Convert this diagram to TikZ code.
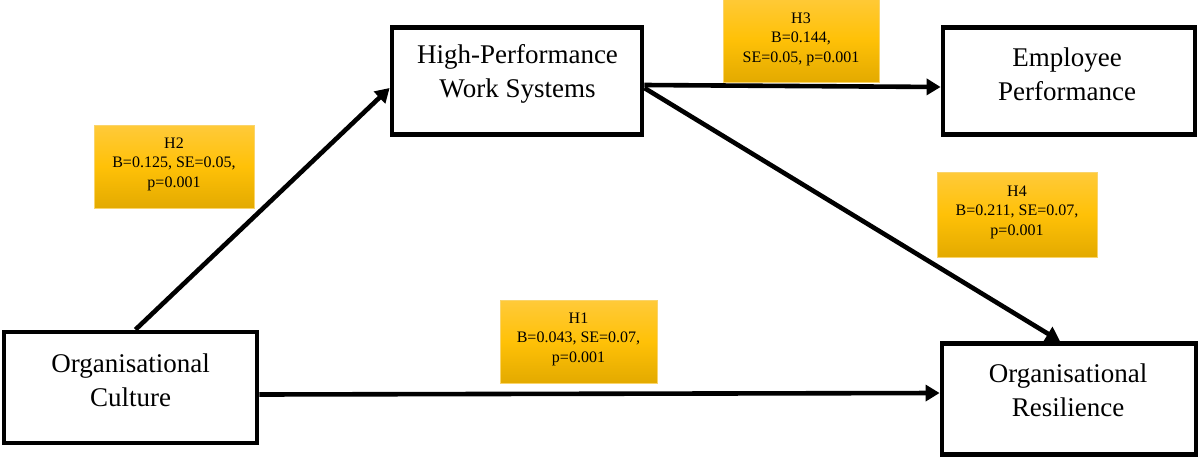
\documentclass[tikz,border=0pt]{standalone}
\usepackage{fontspec}
\setmainfont{Liberation Serif}
\usetikzlibrary{arrows.meta}
\definecolor{goldtop}{HTML}{FFCA3A}
\definecolor{goldmid}{HTML}{FFC107}
\definecolor{goldbot}{HTML}{E3AA00}
\definecolor{goldedge}{HTML}{FAD46A}
\tikzset{
  varbox/.style={draw=black, line width=4.8pt, fill=white, inner sep=0pt},
  vartext/.style={align=center, inner sep=0pt, font=\fontsize{27}{34}\selectfont},
  hypbox/.style={draw=goldedge, line width=1pt, top color=goldtop, bottom color=goldbot, middle color=goldmid, inner sep=0pt},
  hyptext/.style={align=center, inner sep=0pt, font=\fontsize{16}{19.5}\selectfont},
  arr/.style={line width=4.6pt, -{Triangle[length=14pt,width=16pt]}}
}
\begin{document}
\begin{tikzpicture}[x=1pt,y=-1pt]
\useasboundingbox[fill=white] (0,0) rectangle (1200,458);
% main variable boxes
\node[varbox, minimum width=253pt, minimum height=111pt] (oc) at (130.5,387.5) {};
\node[varbox, minimum width=250pt, minimum height=107pt] (hpws) at (517,81) {};
\node[varbox, minimum width=252pt, minimum height=107pt] (ep) at (1069,81) {};
\node[varbox, minimum width=254pt, minimum height=111pt] (or) at (1069,399) {};
\node[vartext] (octext) at (130.5,380) {Organisational\\Culture};
\node[vartext] (hpwstext) at (517.5,74) {High-Performance\\Work Systems};
\node[vartext] (eptext) at (1067,74) {Employee\\Performance};
\node[vartext] (ortext) at (1068,390) {Organisational\\Resilience};
% arrows
\draw[arr] ([xshift=5pt]oc.north) -- ([yshift=-7pt]hpws.west);
\draw[arr] ([yshift=-4pt]hpws.east) -- ([yshift=-6pt]ep.west);
\draw[arr] ([yshift=-7pt]hpws.east) -- ([xshift=-9pt]or.north);
\draw[arr] ([yshift=-7pt]oc.east) -- ([yshift=6pt]or.west);
% hypothesis labels
\node[hypbox, minimum width=160pt, minimum height=83pt] (h2) at (174,166.5) {};
\node[hyptext] (h2text) at (174,164) {H2\\B=0.125, SE=0.05,\\p=0.001};
\node[hypbox, minimum width=156pt, minimum height=86pt] (h3) at (801,39) {};
\node[hyptext] (h3text) at (801,39) {H3\\B=0.144,\\SE=0.05, p=0.001};
\node[hypbox, minimum width=160pt, minimum height=85pt] (h4) at (1017,214.5) {};
\node[hyptext] (h4text) at (1017,212) {H4\\B=0.211, SE=0.07,\\p=0.001};
\node[hypbox, minimum width=157pt, minimum height=83pt] (h1) at (578.5,341.5) {};
\node[hyptext] (h1text) at (578.5,339) {H1\\B=0.043, SE=0.07,\\p=0.001};
\end{tikzpicture}
\end{document}
